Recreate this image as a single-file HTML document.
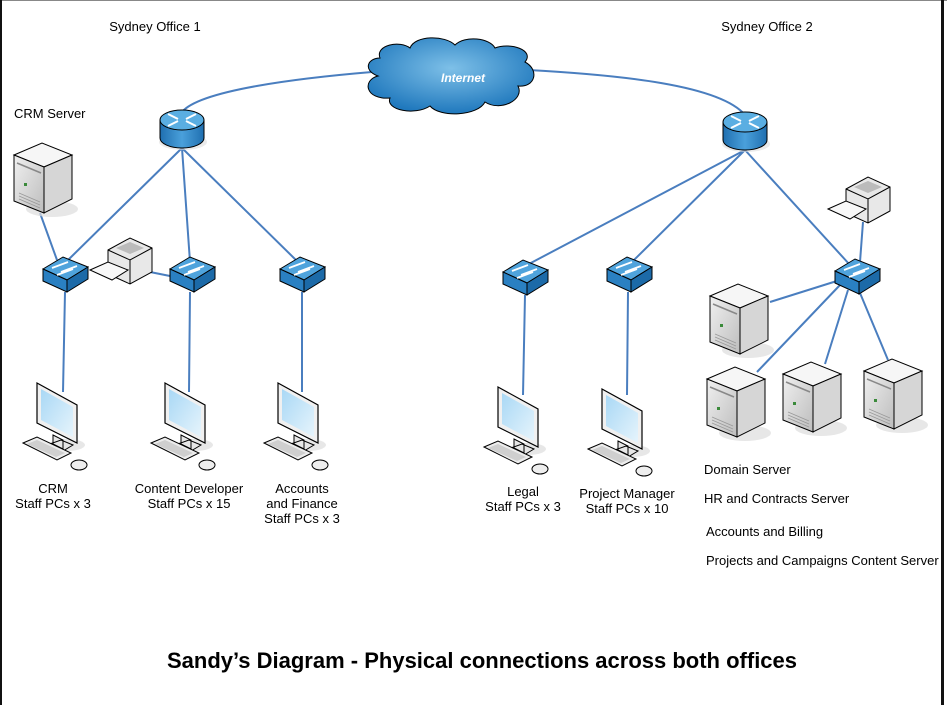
<!DOCTYPE html>
<html><head><meta charset="utf-8"><style>
html,body{margin:0;padding:0;background:#fff;}
svg{display:block;}
text{font-family:"Liberation Sans",Arial,sans-serif;font-size:13px;fill:#000;}
</style></head><body>
<svg width="947" height="705" viewBox="0 0 947 705" xmlns="http://www.w3.org/2000/svg">
<defs>
<linearGradient id="rg" x1="0" x2="1"><stop offset="0" stop-color="#1f6fb0"/><stop offset="0.5" stop-color="#4aa0db"/><stop offset="1" stop-color="#1f6fb0"/></linearGradient>
<radialGradient id="cg" cx="0.5" cy="0.4" r="0.6"><stop offset="0" stop-color="#7ec0e8"/><stop offset="1" stop-color="#1f78bd"/></radialGradient>
<linearGradient id="sg" x1="0" x2="1" y1="0" y2="1"><stop offset="0" stop-color="#f0f0f0"/><stop offset="1" stop-color="#bdbdbd"/></linearGradient>
<linearGradient id="scr" x1="0" x2="1" y1="0" y2="1"><stop offset="0" stop-color="#a9d8f5"/><stop offset="1" stop-color="#e6f4fc"/></linearGradient>
<g id="router">
<ellipse cx="23" cy="32" rx="24" ry="8" fill="#ddd" opacity="0.6"/>
<path d="M0,10 L0,28 A22,10 0 0 0 44,28 L44,10 Z" fill="url(#rg)" stroke="#000" stroke-width="1"/>
<ellipse cx="22" cy="10" rx="22" ry="10" fill="#5aaee2" stroke="#000" stroke-width="1"/>
<g stroke="#fff" stroke-width="2" fill="none"><path d="M8,4 L18,9 M36,4 L26,9 M8,16 L18,11 M36,16 L26,11"/></g>
</g>
<g id="switch">
<path d="M0,13 L20,1 L45,11 L24,24 Z" fill="#4fa3dc" stroke="#000" stroke-width="1"/>
<path d="M0,13 L24,24 L24,36 L0,25 Z" fill="#2a80c2" stroke="#000" stroke-width="1"/>
<path d="M24,24 L45,11 L45,23 L24,36 Z" fill="#1c6aa8" stroke="#000" stroke-width="1"/>
<g stroke="#fff" stroke-width="1.8"><path d="M9,12 L25,6 M18,16 L34,10 M14,19 L30,13"/></g>
</g>
<g id="server">
<ellipse cx="38" cy="66" rx="26" ry="8" fill="#ddd" opacity="0.7"/>
<path d="M0,12 L28,0 L58,12 L30,24 Z" fill="#f6f6f6" stroke="#000" stroke-width="1"/>
<path d="M0,12 L30,24 L30,70 L0,58 Z" fill="url(#sg)" stroke="#000" stroke-width="1"/>
<path d="M30,24 L58,12 L58,56 L30,70 Z" fill="#d6d6d6" stroke="#000" stroke-width="1"/>
<path d="M3,20 L27,30" stroke="#888" stroke-width="1.5"/>
<rect x="10" y="40" width="3" height="3" fill="#3a8a3a"/>
<g stroke="#999" stroke-width="0.8"><path d="M5,50 L26,59 M5,53 L26,62 M5,56 L26,65"/></g>
</g>
<g id="pc">
<ellipse cx="44" cy="62" rx="18" ry="6" fill="#ddd" opacity="0.7"/>
<path d="M14,0 L54,22 L54,60 L14,40 Z" fill="#f0f0f0" stroke="#000" stroke-width="1.2"/>
<path d="M18,6 L50,24 L50,54 L18,37 Z" fill="url(#scr)"/>
<path d="M30,52 L40,57 L40,66 L30,61 Z M24,62 L40,68 L50,62 L38,57 Z" fill="#e6e6e6" stroke="#000" stroke-width="1"/>
<path d="M0,60 L14,54 L48,70 L34,77 Z" fill="#ececec" stroke="#000" stroke-width="1"/>
<path d="M4,61 L14,57 L42,70 L33,74 Z" fill="#cfcfcf"/>
<ellipse cx="56" cy="82" rx="8" ry="5" fill="#eee" stroke="#000" stroke-width="1"/>
</g>
<g id="printer">
<path d="M18,12 L40,0 L62,10 L62,34 L40,46 L18,36 Z" fill="#e8e8e8" stroke="#000" stroke-width="1"/>
<path d="M18,12 L40,22 L62,10 M40,22 L40,46" stroke="#000" stroke-width="1" fill="none"/>
<path d="M26,10 L40,4 L54,10 L40,16 Z" fill="#bbb"/>
<path d="M0,32 L18,24 L38,32 L22,42 Z" fill="#f8f8f8" stroke="#000" stroke-width="1"/>
</g>
</defs>
<rect x="0" y="0" width="947" height="1" fill="#888"/>
<rect x="0" y="0" width="2" height="705" fill="#111"/>
<rect x="941" y="0" width="3" height="705" fill="#111"/>

<g stroke="#4a7ebf" stroke-width="2" fill="none">
<path d="M182,112 C200,90 300,78 372,72"/>
<path d="M528,70 C620,75 720,85 745,115"/>
<path d="M182,148 L66,262 M182,148 L190,262 M182,148 L298,262"/>
<path d="M40,213 L57,260 M150,272 L170,276"/>
<path d="M65,292 L63,392 M190,292 L189,392 M302,292 L302,392"/>
<path d="M745,150 L527,265 M745,150 L632,262 M745,150 L850,265"/>
<path d="M525,295 L523,395 M628,292 L627,395"/>
<path d="M863,222 L860,262 M840,280 L770,302 M840,285 L757,372 M848,290 L825,364 M860,293 L888,360"/>
</g>

<path d="M380,58 C375,45 400,40 410,48 C415,35 445,35 455,45 C465,35 490,38 495,48 C510,42 535,50 525,62 C540,70 535,88 518,86 C525,100 500,112 485,102 C478,116 440,118 430,106 C415,116 385,110 390,98 C365,100 362,80 378,76 C362,70 368,58 380,58 Z" fill="url(#cg)" stroke="#000" stroke-width="1"/>
<text x="463" y="82" text-anchor="middle" style="font-style:italic;font-weight:bold;fill:#fff;font-size:12px">Internet</text>

<use href="#router" x="160" y="110"/>
<use href="#router" x="723" y="112"/>
<use href="#server" x="14" y="143"/>
<use href="#printer" x="90" y="238"/>
<use href="#printer" x="828" y="177"/>
<use href="#switch" x="43" y="256"/>
<use href="#switch" x="170" y="256"/>
<use href="#switch" x="280" y="256"/>
<use href="#switch" x="503" y="259"/>
<use href="#switch" x="607" y="256"/>
<use href="#switch" x="835" y="258"/>
<use href="#server" x="710" y="284"/>
<use href="#server" x="707" y="367"/>
<use href="#server" x="783" y="362"/>
<use href="#server" x="864" y="359"/>
<use href="#pc" x="23" y="383"/>
<use href="#pc" x="151" y="383"/>
<use href="#pc" x="264" y="383"/>
<use href="#pc" x="484" y="387"/>
<use href="#pc" x="588" y="389"/>

<text x="155" y="31" text-anchor="middle">Sydney Office 1</text>
<text x="767" y="31" text-anchor="middle">Sydney Office 2</text>
<text x="14" y="118">CRM Server</text>
<text x="53" y="493" text-anchor="middle">CRM</text>
<text x="53" y="508" text-anchor="middle">Staff PCs x 3</text>
<text x="189" y="493" text-anchor="middle">Content Developer</text>
<text x="189" y="508" text-anchor="middle">Staff PCs x 15</text>
<text x="302" y="493" text-anchor="middle">Accounts</text>
<text x="302" y="508" text-anchor="middle">and Finance</text>
<text x="302" y="523" text-anchor="middle">Staff PCs x 3</text>
<text x="523" y="496" text-anchor="middle">Legal</text>
<text x="523" y="511" text-anchor="middle">Staff PCs x 3</text>
<text x="627" y="498" text-anchor="middle">Project Manager</text>
<text x="627" y="513" text-anchor="middle">Staff PCs x 10</text>
<text x="704" y="474">Domain Server</text>
<text x="704" y="503">HR and Contracts Server</text>
<text x="706" y="536">Accounts and Billing</text>
<text x="706" y="565">Projects and Campaigns Content Server</text>
<text x="482" y="668" text-anchor="middle" style="font-weight:bold;font-size:22px">Sandy’s Diagram - Physical connections across both offices</text>
</svg>
</body></html>
